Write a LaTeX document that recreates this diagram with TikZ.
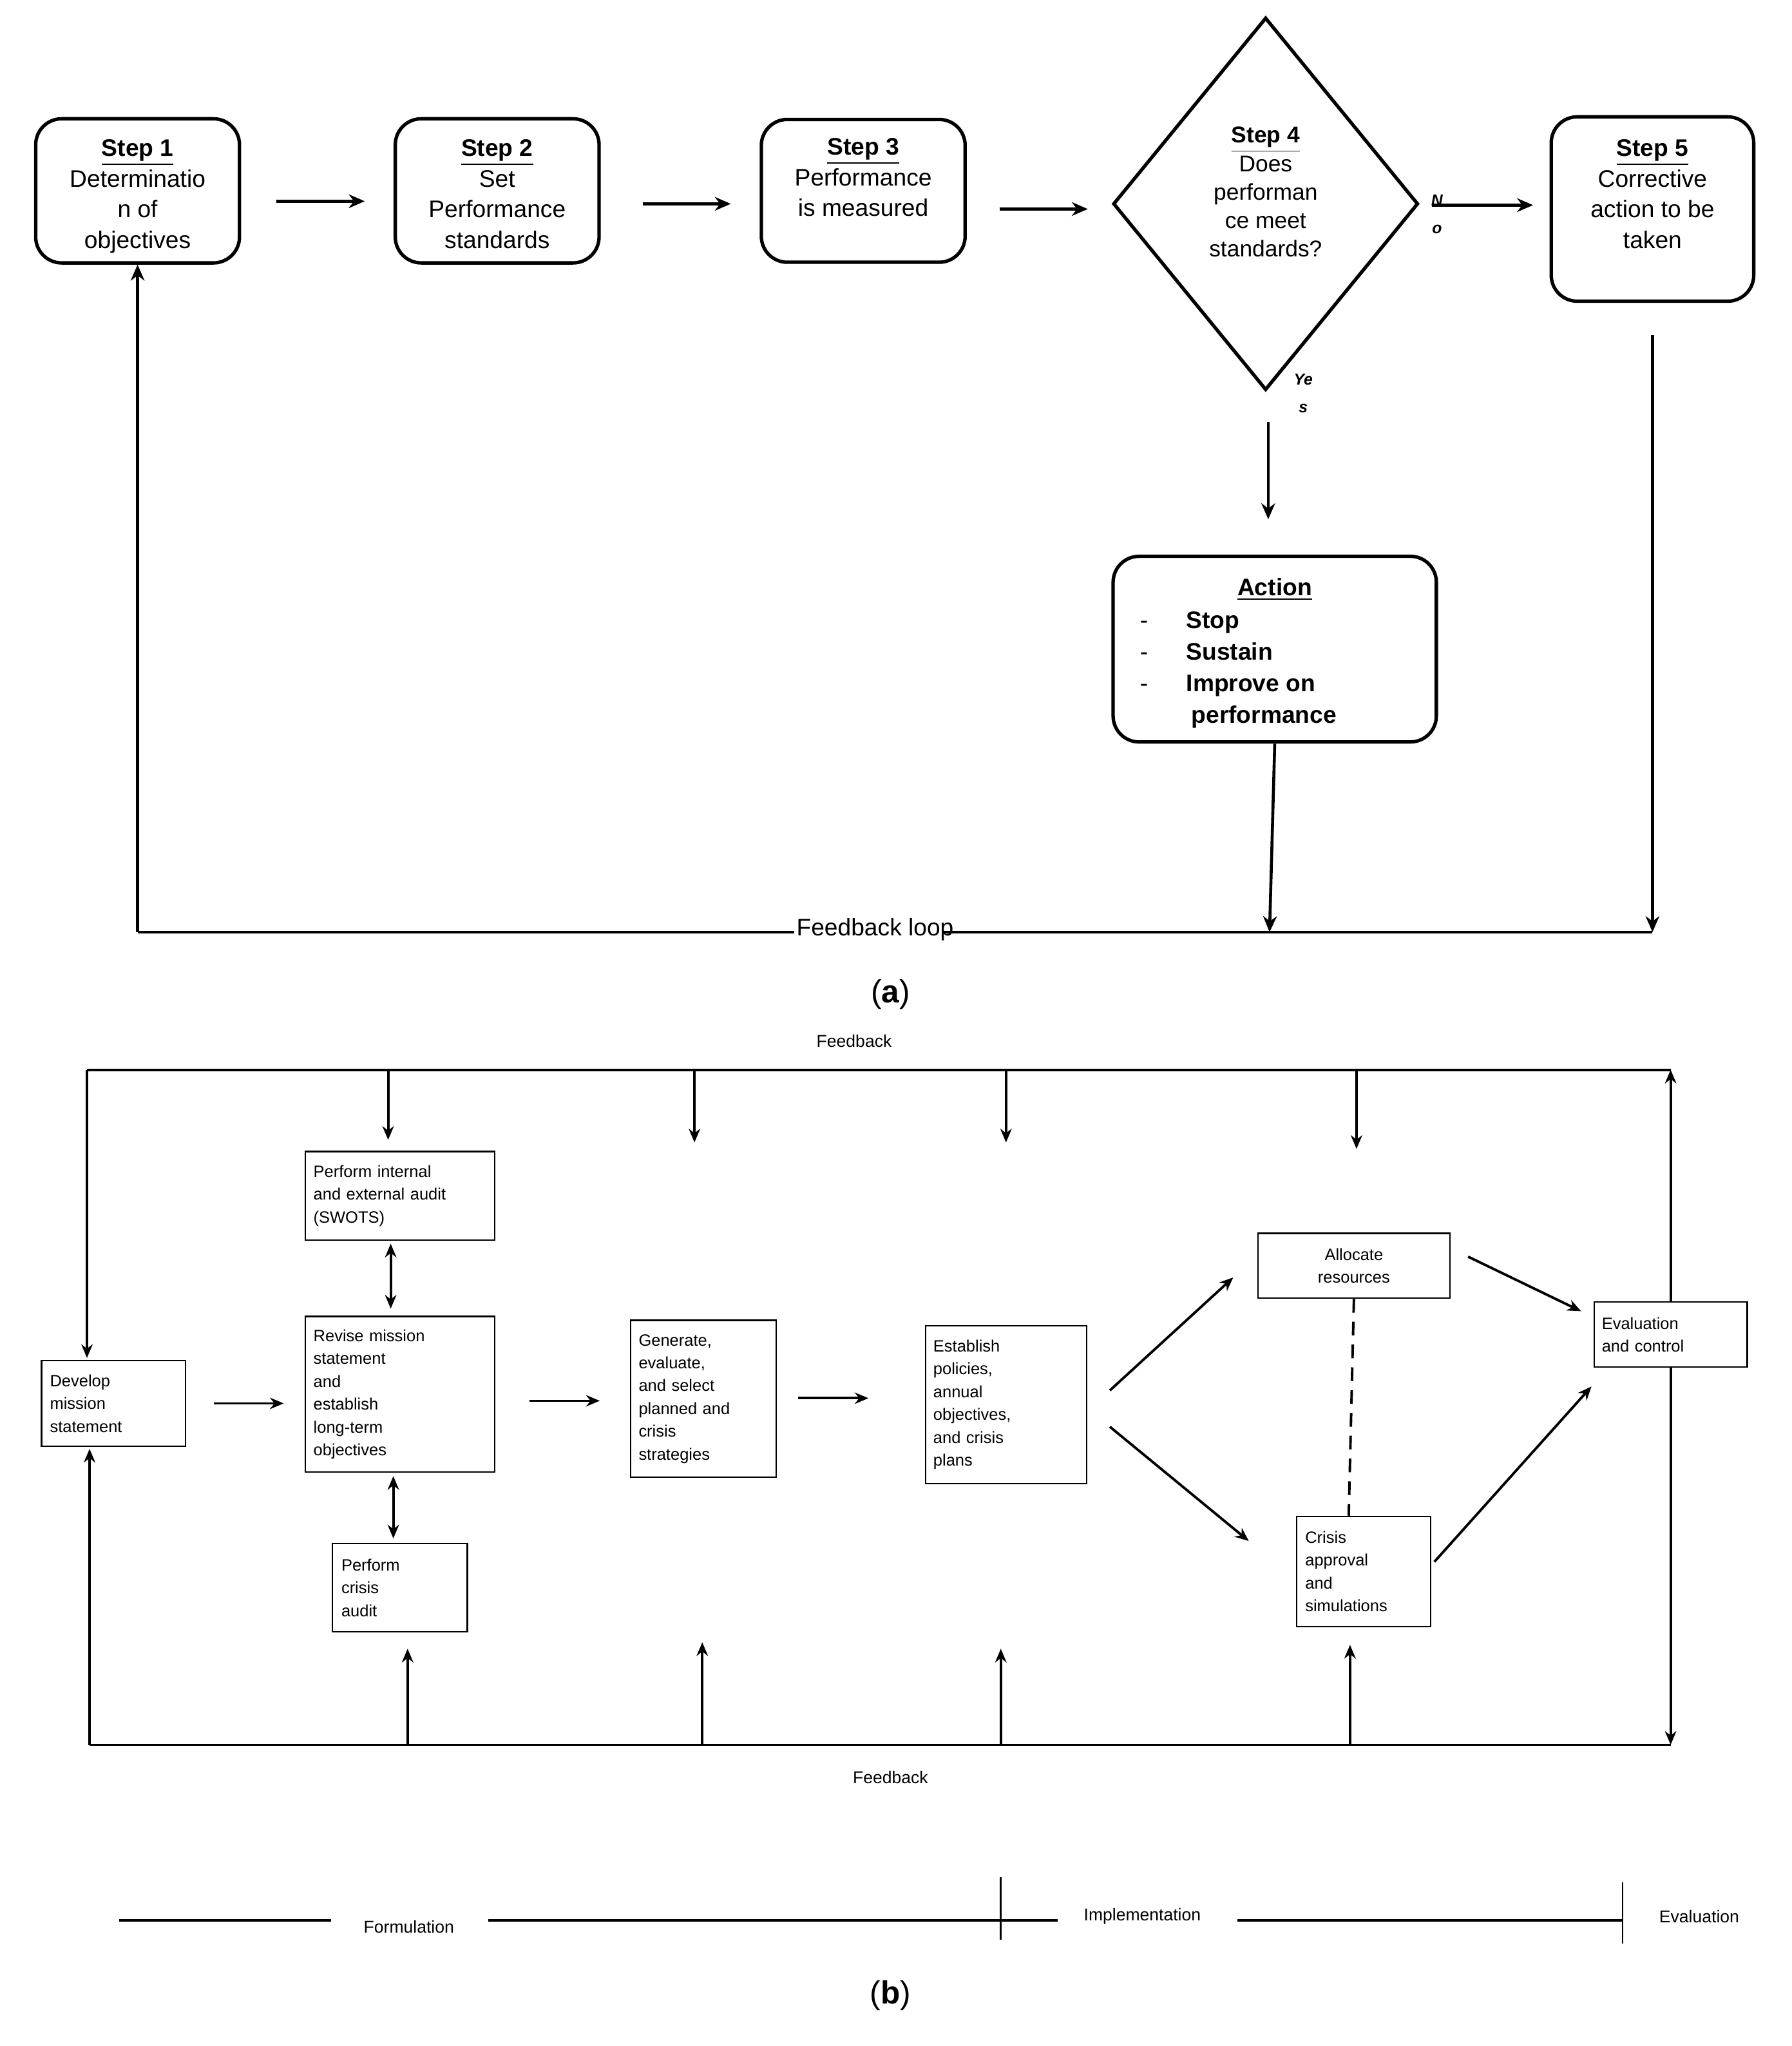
\documentclass[tikz,border=0pt]{standalone}
\usepackage{fontspec}
\setmainfont{Liberation Sans}
\usetikzlibrary{shapes.geometric,arrows.meta}
\begin{document}
\begin{tikzpicture}[x=0.02cm,y=-0.02cm,
  top/.style={draw,line width=1.5pt,rounded corners=0.4cm,inner sep=0pt},
  tt/.style={align=center,font=\fontsize{10.5}{13.5}\selectfont,inner sep=0pt},
  ar/.style={line width=1.3pt,-{Stealth[length=7pt,width=6pt]}},
  bx/.style={draw,fill=white,line width=0.6pt,align=left,font=\fontsize{7.2}{10}\selectfont,inner sep=0pt},
  ba/.style={line width=1.1pt,-{Stealth[length=6pt,width=5pt]}},
  bb/.style={line width=1.1pt,{Stealth[length=6pt,width=5pt]}-{Stealth[length=6pt,width=5pt]}},
  lab/.style={font=\fontsize{7.5}{9}\selectfont}]
\useasboundingbox (0,0) rectangle (1380,1576);
% ---- (a)
\node[top,minimum width=157*0.02cm,minimum height=111*0.02cm] (s1) at (106,147) {};
\node[tt,anchor=north] (s1t) at (106,107) {\underline{\textbf{Step 1}}\\Determinatio\\n of\\objectives};
\node[top,minimum width=157*0.02cm,minimum height=111*0.02cm] (s2) at (383,147) {};
\node[tt,anchor=north] (s2t) at (383,107) {\underline{\textbf{Step 2}}\\Set\\Performance\\standards};
\node[top,minimum width=157*0.02cm,minimum height=110*0.02cm] (s3) at (665,147) {};
\node[tt,anchor=north] (s3t) at (665,106) {\underline{\textbf{Step 3}}\\Performance\\is measured};
\node[draw,line width=1.5pt,diamond,minimum width=235*0.02cm,minimum height=287*0.02cm,inner sep=0pt] (s4) at (975,157) {};
\node[align=center,font=\fontsize{10}{12.5}\selectfont] (s4t) at (975,148) {\underline{\textbf{Step 4}}\\Does\\performan\\ce meet\\standards?};
\node[top,minimum width=156*0.02cm,minimum height=142*0.02cm] (s5) at (1273,161) {};
\node[tt,anchor=north] (s5t) at (1273,107) {\underline{\textbf{Step 5}}\\Corrective\\action to be\\taken};
\node[top,minimum width=249*0.02cm,minimum height=143*0.02cm] (act) at (982,500) {};
\node[font=\fontsize{10.5}{12.5}\selectfont] (actt) at (982,454) {\underline{\textbf{Action}}};
\node[font=\fontsize{10.5}{13.8}\selectfont,align=left,anchor=north west] (actl) at (872,465)
  {-\hspace{1.6em}\textbf{Stop}\\-\hspace{1.6em}\textbf{Sustain}\\-\hspace{1.6em}\textbf{Improve on}\\\hspace{2.15em}\textbf{performance}};
\coordinate (a1) at (213,155); \coordinate (a2) at (281,155);
\coordinate (b1) at (495,157); \coordinate (b2) at (563,157);
\coordinate (c1) at (770,161); \coordinate (c2) at (838,161);
\coordinate (n1) at (1103,158); \coordinate (n2) at (1181,158);
\coordinate (y1) at (977,325); \coordinate (y2) at (977,400);
\draw[ar] (a1) -- (a2);
\draw[ar] (b1) -- (b2);
\draw[ar] (c1) -- (c2);
\draw[ar] (n1) -- (n2);
\draw[ar] (y1) -- (y2);
\node[font=\bfseries\itshape\fontsize{7}{12}\selectfont,align=center] (no) at (1107,165) {N\\o};
\node[font=\bfseries\itshape\fontsize{7}{12}\selectfont,align=center] (yes) at (1004,303) {Ye\\s};
\coordinate (fbl) at (106,718); \coordinate (fbm) at (978,718); \coordinate (fbr) at (1273,718);
\coordinate (s5b) at (1273,258);
\draw[line width=1.3pt] (fbl) -- (fbr);
\node[fill=white,inner sep=1pt,font=\fontsize{10.5}{12}\selectfont] (fbt) at (669,716) {Feedback loo\rlap{p}};
\draw[line width=1.3pt] (735,718) -- (760,718);
\draw[ar] (fbl) -- (s1.south);
\draw[ar] (act.south) -- (fbm);
\draw[ar] (s5b) -- (fbr);
\node[font=\fontsize{14}{16}\selectfont] (capa) at (686,766) {(\textbf{a})};
% ---- (b) frame first
\coordinate (tl) at (67,824); \coordinate (tr) at (1287,824);
\coordinate (bl) at (69,1344); \coordinate (br) at (1287,1344);
\coordinate (devn) at (67,1046); \coordinate (devs) at (69,1116);
\draw[line width=1.1pt] (tl) -- (tr);
\draw[line width=1.1pt] (bl) -- (br);
\draw[ba] (tl) -- (devn);
\draw[ba] (bl) -- (devs);
\draw[bb] (tr) -- (br);
\foreach \x/\y in {299/878,535/880,775/880,1045/885}
  \draw[ba] (\x,824) -- (\x,\y);
\foreach \x/\y in {314/1270,541/1265,771/1270,1040/1267}
  \draw[ba] (\x,1344) -- (\x,\y);
\node[lab] (fbtop) at (658,802) {Feedback};
\node[lab] (fbbot) at (686,1369) {Feedback};
\node[bx,minimum width=111*0.02cm,minimum height=66*0.02cm,text width=98*0.02cm] (dev) at (87.5,1081) {Develop\\mission\\statement};
\node[bx,minimum width=146*0.02cm,minimum height=68*0.02cm,text width=133*0.02cm] (aud) at (308,921) {Perform internal\\and external audit\\(SWOTS)};
\node[bx,minimum width=146*0.02cm,minimum height=120*0.02cm,text width=133*0.02cm] (rev) at (308,1074) {Revise mission\\statement\\and\\establish\\long-term\\objectives};
\node[bx,minimum width=104*0.02cm,minimum height=68*0.02cm,text width=90*0.02cm] (cra) at (308,1223) {Perform\\crisis\\audit};
\node[bx,minimum width=112*0.02cm,minimum height=121*0.02cm,text width=100*0.02cm] (gen) at (542,1077.5) {Generate,\\evaluate,\\and select\\planned and\\crisis\\strategies};
\node[bx,minimum width=124*0.02cm,minimum height=122*0.02cm,text width=112*0.02cm] (est) at (775,1082) {Establish\\policies,\\annual\\objectives,\\and crisis\\plans};
\node[bx,align=center,minimum width=148*0.02cm,minimum height=50*0.02cm] (all) at (1043,975) {Allocate\\resources};
\node[bx,minimum width=103*0.02cm,minimum height=85*0.02cm,text width=90*0.02cm] (cap) at (1050.5,1210.5) {Crisis\\approval\\and\\simulations};
\node[bx,minimum width=118*0.02cm,minimum height=50*0.02cm,text width=106*0.02cm] (eva) at (1287,1028) {Evaluation\\and control};
\draw[ba] (dev.east) ++(21,0) -- ++(54,0);
\draw[bb] (301,958) -- (301,1008);
\draw[bb] (303,1137) -- (303,1185);
\draw[ba] (408,1079) -- (462,1079);
\draw[ba] (615,1077) -- (669,1077);
\draw[ba] (855,1071) -- (950,984);
\draw[ba] (855,1099) -- (962,1187);
\draw[ba] (1131,968) -- (1218,1010);
\draw[ba] (1105,1203) -- (1226,1068);
\draw[line width=1.1pt,dash pattern=on 6pt off 4pt] (all.south) -- (cap.north -| 1039,0);
% timeline
\draw[line width=1.1pt] (92,1479) -- (255,1479);
\node[lab] (tf) at (315,1484) {Formulation};
\draw[line width=1.1pt] (376,1479) -- (815,1479);
\draw[line width=0.8pt] (771,1446) -- (771,1494);
\node[lab] (ti) at (880,1476) {Implementation};
\draw[line width=1.1pt] (953,1479) -- (1250,1479);
\draw[line width=0.8pt] (1250,1450) -- (1250,1497);
\node[lab] (te) at (1309,1476) {Evaluation};
\node[font=\fontsize{14}{16}\selectfont] (capb) at (686,1537) {(\textbf{b})};
\end{tikzpicture}
\end{document}
